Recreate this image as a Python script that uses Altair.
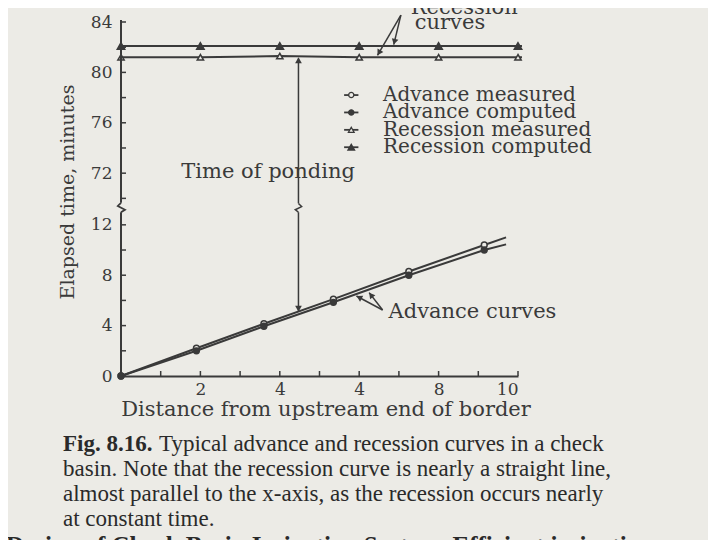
import math
import altair as alt
import pandas as pd

INK = "#3a3a3a"
PAPER = "#ecebe6"
FONT = "DejaVu Serif"
CAP_FONT = "Liberation Serif"

# ---------------- data ----------------
rec_x = [0, 2, 4, 6, 8, 10]
rec_computed = [82.1, 82.1, 82.1, 82.1, 82.1, 82.1]
rec_measured = [81.2, 81.2, 81.3, 81.2, 81.2, 81.2]
rec_end_x = 10.1

adv_x = [0, 1.9, 3.6, 5.35, 7.25, 9.15]
adv_measured = [0, 2.2, 4.15, 6.1, 8.3, 10.4]
adv_computed = [0, 2.0, 3.95, 5.85, 8.0, 10.0]
adv_end_x = 9.7
adv_end_measured = 11.0
adv_end_computed = 10.45

series_names = ["Advance measured", "Advance computed", "Recession measured", "Recession computed"]

y_major = [0, 4, 8, 12, 72, 76, 80, 84]
y_minor = [2, 6, 10, 70, 74, 78, 82]
x_tick_values = [1, 2, 3, 4, 5, 6, 7, 8, 9, 10]
x_label_values = [2, 4, 6, 8, 10]
x_label_texts = ["2", "4", "4", "8", "10"]   # as printed in the figure

caption_lines = [
    "Typical advance and recession curves  in  a  check",
    "basin. Note that the recession curve is nearly a straight  line,",
    "almost parallel to the x-axis, as the  recession  occurs  nearly",
    "at constant time.",
]
caption_bold = "Fig. 8.16."
next_heading = "Design of Check Basin Irrigation System.  Efficient irrigation"

# ---------------- broken y axis helper ----------------
GAP = 4.1          # empty band between 12 and 72, in axis units
LOW_TOP = 12
HIGH_BOT = 72
Y_TOP = LOW_TOP + GAP + 12
W, H = 397, 354
PX_X = W / 10.0
PX_Y = H / Y_TOP


def brk(v):
    return v if v <= LOW_TOP else v - HIGH_BOT + LOW_TOP + GAP


def X(f="x", axis=alt.Undefined):
    return alt.X(f + ":Q", scale=alt.Scale(domain=[0, 10]), axis=axis, title=None)


def Y(f="y", axis=alt.Undefined):
    return alt.Y(f + ":Q", scale=alt.Scale(domain=[0, Y_TOP]), axis=axis, title=None)


# ---------------- tables ----------------
line_rows = []
pt_rows = []
for name, xs, vs in [
    ("Advance measured", adv_x + [adv_end_x], adv_measured + [adv_end_measured]),
    ("Advance computed", adv_x + [adv_end_x], adv_computed + [adv_end_computed]),
    ("Recession measured", rec_x + [rec_end_x], rec_measured + [rec_measured[-1]]),
    ("Recession computed", rec_x + [rec_end_x], rec_computed + [rec_computed[-1]]),
]:
    for i, (xx, vv) in enumerate(zip(xs, vs)):
        line_rows.append({"s": name, "x": xx, "y": brk(vv), "o": i})
        if i < len(xs) - 1:
            pt_rows.append({"s": name, "x": xx, "y": brk(vv)})
lines_df = pd.DataFrame(line_rows)
pts_df = pd.DataFrame(pt_rows)

shape_map = {
    "Advance measured": ("circle", PAPER, 34),
    "Advance computed": ("circle", INK, 34),
    "Recession measured": ("triangle-up", PAPER, 40),
    "Recession computed": ("triangle-up", INK, 55),
}

x_label_expr = " : ".join(
    [f"datum.value == {v} ? '{t}'" for v, t in zip(x_label_values, x_label_texts)]
) + " : datum.label"
y_label_expr = f"datum.value > {LOW_TOP + 0.5} ? '' + round(datum.value + {HIGH_BOT - LOW_TOP - GAP}) : '' + datum.value"

x_axis = alt.Axis(values=x_label_values, labelExpr=x_label_expr, ticks=False, domain=True,
                  domainColor=INK, domainWidth=2, labelFont=FONT, labelFontSize=17,
                  labelColor=INK, labelPadding=5, title=None, grid=False)
y_axis = alt.Axis(values=[brk(v) for v in y_major], labelExpr=y_label_expr, ticks=False,
                  domain=False, labelFont=FONT, labelFontSize=17, labelColor=INK,
                  labelPadding=9, title=None, grid=False)

layers = []

# series lines (carry the axes)
layers.append(
    alt.Chart(lines_df).mark_line(color=INK, strokeWidth=2).encode(
        x=X("x", x_axis), y=Y("y", y_axis), detail="s:N", order="o:Q")
)

# markers
for name in series_names:
    shp, fill, size = shape_map[name]
    layers.append(
        alt.Chart(pts_df[pts_df.s == name]).mark_point(
            shape=shp, filled=True, fill=fill, stroke=INK, strokeWidth=1.5, size=size, opacity=1
        ).encode(x=X(), y=Y())
    )

# y axis line with break mark
yaxis_df = pd.DataFrame({"x": [0, 0], "y": [0, 13.75], "y2": [13.0, Y_TOP + 0.15]})
layers.append(alt.Chart(yaxis_df).mark_rule(color=INK, strokeWidth=2).encode(
    x=X(), y=Y(), y2="y2:Q"))
zig_df = pd.DataFrame({"x": [0, 0.1, -0.08, 0], "y": [13.0, 13.2, 13.5, 13.75], "o": [0, 1, 2, 3]})
layers.append(alt.Chart(zig_df).mark_line(color=INK, strokeWidth=1.8).encode(
    x=X(), y=Y(), order="o:Q"))

# inward ticks
ytick_df = pd.DataFrame({"y": [brk(v) for v in y_major + y_minor]})
ytick_df["x"] = 0
ytick_df["x2"] = 5 / PX_X
layers.append(alt.Chart(ytick_df).mark_rule(color=INK, strokeWidth=1.5).encode(
    x=X(), x2="x2:Q", y=Y()))
xtick_df = pd.DataFrame({"x": x_tick_values})
xtick_df["y"] = 0
xtick_df["y2"] = 5 / PX_Y
layers.append(alt.Chart(xtick_df).mark_rule(color=INK, strokeWidth=1.5).encode(
    x=X(), y=Y(), y2="y2:Q"))

# ---------------- annotations ----------------
ponding_x = 4.47
seg_rows = [
    # time of ponding double arrow (with a break)
    (ponding_x, brk(5.2), ponding_x, 13.0),
    (ponding_x, 13.7, ponding_x, brk(81.2) - 0.1),
    # recession curves pointers
    (7.05, 28.65, 6.46, 25.45),
    (7.05, 28.65, 6.87, 26.3),
    # advance curves pointers
    (6.59, 5.24, 5.93, 6.35),
    (6.59, 5.24, 6.25, 6.62),
]
seg_df = pd.DataFrame(seg_rows, columns=["x", "y", "x2", "y2"])
layers.append(alt.Chart(seg_df).mark_rule(color=INK, strokeWidth=1.5).encode(
    x=X(), y=Y(), x2="x2:Q", y2="y2:Q"))

pz_df = pd.DataFrame({"x": [ponding_x, ponding_x - 0.08, ponding_x + 0.08, ponding_x],
                      "y": [13.0, 13.2, 13.45, 13.7], "o": [0, 1, 2, 3]})
layers.append(alt.Chart(pz_df).mark_line(color=INK, strokeWidth=1.5).encode(
    x=X(), y=Y(), order="o:Q"))


def head_angle(x0, y0, x1, y1):
    dx = (x1 - x0) * PX_X
    dy = -(y1 - y0) * PX_Y
    return (math.degrees(math.atan2(dx, -dy)) + 360) % 360


heads = []
for tail, tip in [
    ((ponding_x, 13.7), (ponding_x, brk(81.2))),
    ((ponding_x, 13.0), (ponding_x, brk(5.1))),
    ((7.05, 28.65), (6.46, 25.45)),
    ((7.05, 28.65), (6.87, 26.3)),
    ((6.59, 5.24), (5.93, 6.35)),
    ((6.59, 5.24), (6.25, 6.62)),
]:
    ang = head_angle(tail[0], tail[1], tip[0], tip[1])
    dxp, dyp = math.sin(math.radians(ang)), -math.cos(math.radians(ang))
    heads.append({"x": tip[0] - dxp * 3 / PX_X, "y": tip[1] + dyp * 3 / PX_Y, "a": ang})
heads_df = pd.DataFrame(heads)
layers.append(alt.Chart(heads_df).mark_point(shape="triangle-up", filled=True, color=INK,
                                             size=45, opacity=1).encode(
    x=X(), y=Y(), angle=alt.Angle("a:Q", scale=None)))

# annotation texts (data coordinates)
ann_df = pd.DataFrame([
    {"t": "Recession", "x": 7.3, "y": 29.2},
    {"t": "curves", "x": 7.4, "y": 28.0},
    {"t": "Time of ponding", "x": 1.52, "y": 16.2},
    {"t": "Advance curves", "x": 6.74, "y": 5.1},
])
layers.append(alt.Chart(ann_df).mark_text(font=FONT, fontSize=21, color=INK, align="left",
                                          baseline="middle").encode(
    x=X(), y=Y(), text="t:N"))

# hand-made legend inside the plot
leg_top = 22.3
leg_rows, leg_seg = [], []
for i, name in enumerate(series_names):
    yy = leg_top - 1.38 * i
    leg_rows.append({"t": name, "x": 6.6, "y": yy, "s": name})
    leg_seg.append({"x": 5.62, "x2": 5.98, "y": yy, "s": name})
leg_df = pd.DataFrame(leg_rows)
legseg_df = pd.DataFrame(leg_seg)
layers.append(alt.Chart(legseg_df).mark_rule(color=INK, strokeWidth=1.8).encode(
    x=X(), x2="x2:Q", y=Y()))
for name in series_names:
    shp, fill, size = shape_map[name]
    sub = legseg_df[legseg_df.s == name].assign(xm=5.8)
    layers.append(alt.Chart(sub).mark_point(shape=shp, filled=True, fill=fill, stroke=INK,
                                            strokeWidth=1.3, size=size * 0.8, opacity=1).encode(
        x=X("xm"), y=Y()))
layers.append(alt.Chart(leg_df).mark_text(font=FONT, fontSize=20, color=INK, align="left",
                                          baseline="middle").encode(
    x=X(), y=Y(), text="t:N"))

# axis titles (pixel offsets from plot origin)
one = pd.DataFrame({"k": [0]})
layers.append(alt.Chart(one).mark_text(text="Elapsed time, minutes", font=FONT, fontSize=19,
                                       color=INK, angle=270, align="center",
                                       baseline="middle").encode(
    x=alt.value(-53), y=alt.value(170)))
layers.append(alt.Chart(one).mark_text(text="Distance from upstream end of border", font=FONT,
                                       fontSize=21, color=INK, align="center",
                                       baseline="middle").encode(
    x=alt.value(205), y=alt.value(388)))

# caption
layers.append(alt.Chart(one).mark_text(text=caption_bold, font=CAP_FONT, fontSize=23,
                                       fontWeight="bold", color="#2a2a2a", align="left",
                                       baseline="alphabetic").encode(
    x=alt.value(-58), y=alt.value(429)))
for i, line in enumerate(caption_lines):
    layers.append(alt.Chart(one).mark_text(text=line, font=CAP_FONT, fontSize=23,
                                           color="#2a2a2a", align="left",
                                           baseline="alphabetic").encode(
        x=alt.value(38 if i == 0 else -58), y=alt.value(429 + 25 * i)))
layers.append(alt.Chart(one).mark_text(text=next_heading, font=CAP_FONT, fontSize=25,
                                       fontWeight="bold", color="#2a2a2a", align="left",
                                       baseline="alphabetic").encode(
    x=alt.value(-115), y=alt.value(532)))

chart = alt.layer(*layers).properties(
    width=W, height=H,
    autosize=alt.AutoSizeParams(type="none"),
    padding={"left": 113, "top": 14, "right": 190, "bottom": 180},
    background=PAPER,
).configure_view(strokeWidth=0)

chart.save("out.html", embed_options={"renderer": "svg", "actions": False})
